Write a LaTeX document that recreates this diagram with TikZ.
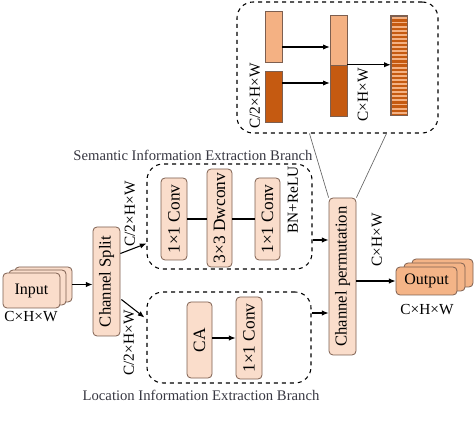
\documentclass[tikz,border=0pt]{standalone}
\usepackage{fontspec}
\setmainfont{Liberation Serif}
\usepackage{tikz}
\usetikzlibrary{arrows.meta, positioning, calc}
\definecolor{PeachFill}{RGB}{250,221,203}
\definecolor{BoxEdge}{RGB}{125,95,80}
\definecolor{OutFill}{RGB}{244,180,135}
\definecolor{LightBar}{RGB}{244,177,131}
\definecolor{DarkBar}{RGB}{197,90,17}
\definecolor{LabelGray}{RGB}{55,55,65}

\begin{document}
\begin{tikzpicture}[x=0.75pt, y=-0.75pt, font=\fontsize{12}{14}\selectfont,
  sz/.style 2 args={minimum width=#1*0.75pt, minimum height=#2*0.75pt},
  blk/.style={draw=BoxEdge, fill=PeachFill, rounded corners=3pt, inner sep=0pt, line width=0.6pt},
  opblk/.style={blk, font=\fontsize{13}{15}\selectfont},
  branch/.style={draw, dashed, rounded corners=12pt, line width=0.8pt, inner sep=0pt},
  bar/.style={draw=BoxEdge, inner sep=0pt, line width=0.4pt},
  arr/.style={-{Latex[length=5pt,width=4pt]}, line width=0.8pt},
  dimtxt/.style={font=\fontsize{11.5}{13}\selectfont},
  branchlabel/.style={font=\fontsize{11}{13}\selectfont, text=LabelGray}]
\useasboundingbox (0,0) rectangle (474,423);

% ---- Input ----
\foreach \k in {2,1}{
  \node[blk, sz={57}{35}] (in\k) at (31.5+6*\k, 290.5-3*\k) {};
}
\node[blk, sz={57}{35}] (in) at (31.5,290.5) {Input};
\node[dimtxt] (inlab) at (31,317) {C×H×W};

% ---- Channel split ----
\node[blk, sz={27}{109}, font=\fontsize{12.5}{14}\selectfont] (split) at (106.5,281.5) {\rotatebox{90}{Channel Split}};
\draw[arr] (in2.east) -- (split.west |- in2.east);

% ---- Semantic branch ----
\node[branch, sz={165}{105}] (sem) at (229.5,216.5) {};
\node[branchlabel] (semlab) at (193,155) {Semantic Information Extraction Branch};
\node[opblk, sz={26}{82}] (c1) at (174,219) {\rotatebox{90}{1×1 Conv}};
\node[opblk, sz={25}{98}] (dw) at (219.5,218) {\rotatebox{90}{3×3 Dwconv}};
\node[opblk, sz={25}{82}] (c2) at (267.5,219) {\rotatebox{90}{1×1 Conv}};
\draw[line width=1.8pt] (c1.east) -- (c1.east -| dw.west);
\draw[line width=1.8pt] (dw.east |- c2.west) -- (c2.west);
\node[dimtxt, rotate=90] (bnlab) at (293,200) {BN+ReLU};

% ---- Location branch ----
\node[branch, sz={164}{91}] (loc) at (229,337.5) {};
\node[branchlabel] (loclab) at (201,395) {Location Information Extraction Branch};
\node[opblk, sz={25}{76}] (ca) at (199.5,340) {\rotatebox{90}{CA}};
\node[opblk, sz={26}{82}] (c3) at (249,338) {\rotatebox{90}{1×1 Conv}};
\draw[arr] (ca.east |- c3.west) -- (c3.west);

% split -> branches
\draw[arr] ($(split.east)+(0,-28)$) -- ($(sem.west)+(0,27)$);
\draw[arr] ($(split.east)+(1,18)$) -- ($(loc.west)+(-2,-20)$);
\node[dimtxt, rotate=90] (uplab) at (130,214) {C/2×H×W};
\node[dimtxt, rotate=90] (dnlab) at (129,343) {C/2×H×W};

% ---- Channel permutation ----
\node[blk, sz={27}{157}, font=\fontsize{12.5}{14}\selectfont] (perm) at (342.5,276.5) {\rotatebox{90}{Channel permutation}};
\draw[arr] ($(sem.east)+(0,23.5)$) coordinate (s1) -- (perm.west |- s1);
\draw[arr] ($(loc.east)+(0,-24.5)$) coordinate (l1) -- (perm.west |- l1);
\node[dimtxt, rotate=90] (pdim) at (377,240) {C×H×W};

% ---- Output ----
\foreach \k in {2,1}{
  \node[blk, fill=OutFill, sz={61}{28}] (out\k) at (426.5+8*\k, 281-4*\k) {};
}
\node[blk, fill=OutFill, sz={61}{28}] (out) at (426.5,281) {Output};
\draw[arr] (perm.east |- out.west) -- (out.west);
\node[dimtxt] (outlab) at (427,310) {C×H×W};

% ---- Shuffle inset ----
\node[branch, sz={201}{131}] (inset) at (337.5,67.5) {};
\node[bar, fill=LightBar, sz={17}{51}] (lt) at (273.5,36.5) {};
\node[bar, fill=DarkBar, sz={17}{51}] (dk) at (273.5,96.5) {};
\node[bar, fill=LightBar, sz={17}{50}] (mt) at (338.5,40) {};
\node[bar, fill=DarkBar, sz={17}{51}] (mb) at (338.5,90.5) {};
\node[bar, fill=DarkBar, sz={16}{99}] (sh) at (399,65.5) {};
\foreach \i in {0,...,23}
  \fill[LightBar] (391.5,17.5+4.1*\i) rectangle (406.5,19.4+4.1*\i);
\draw[BoxEdge, line width=0.4pt] (sh.north west) rectangle (sh.south east);
\draw[arr] ($(lt.east)+(0,10.5)$) coordinate (a1) -- (mt.west |- a1);
\draw[arr] ($(dk.east)+(0,-13.5)$) coordinate (a2) -- (mb.west |- a2);
\draw[arr] (mb.north east) -- (sh.west |- mb.north east);
\node[dimtxt, rotate=90] (ilab1) at (255,96) {C/2×H×W};
\node[dimtxt, rotate=90] (ilab2) at (363,95) {C×H×W};
\draw[black!60, line width=0.5pt] ($(inset.south west)+(73,0)$) -- (perm.north west);
\draw[black!60, line width=0.5pt] ($(inset.south west)+(150,0)$) -- (perm.north east);

\end{tikzpicture}
\end{document}
